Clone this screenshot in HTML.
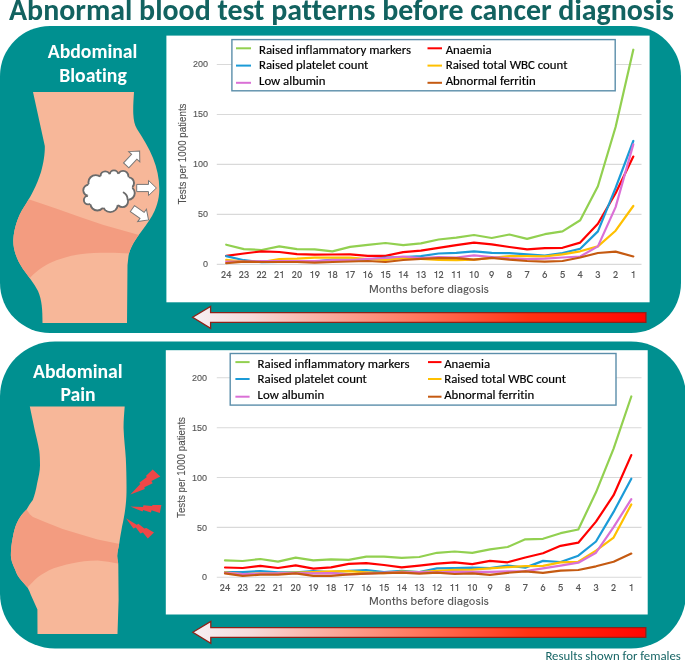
<!DOCTYPE html>
<html><head><meta charset="utf-8"><style>
html,body{margin:0;padding:0;background:#fff;}
svg{display:block;} text{font-variant-ligatures:none;font-feature-settings:'liga' 0,'clig' 0;}
.ti{font-family:Carlito,"Liberation Sans",sans-serif;font-weight:bold;font-size:30px;fill:#126260;}
.ph{font-family:Carlito,"Liberation Sans",sans-serif;font-weight:bold;font-size:19.7px;fill:#fff;}
.lg{font-family:Carlito,"Liberation Sans",sans-serif;font-size:12.8px;fill:#000;stroke:#000;stroke-width:0.18px;}
.yt{font-family:"Liberation Sans",sans-serif;font-size:9px;fill:#555;stroke:#555;stroke-width:0.12px;}
.xt{font-family:"Hanken Grotesk","Liberation Sans",sans-serif;font-weight:600;font-size:9.3px;fill:#595959;}
.mt{font-family:"Hanken Grotesk","Liberation Sans",sans-serif;font-weight:500;font-size:11.2px;fill:#595959;}
.yl{font-family:"Liberation Sans",sans-serif;font-size:10.9px;fill:#505050;stroke:#505050;stroke-width:0.12px;}
.ft{font-family:Carlito,"Liberation Sans",sans-serif;font-size:12.75px;fill:#186666;}
</style></head><body>
<svg width="685" height="661" viewBox="0 0 685 661">
<defs>
<linearGradient id="g1" gradientUnits="userSpaceOnUse" x1="193" y1="0" x2="646" y2="0">
<stop offset="0" stop-color="#F6F1F4"/><stop offset="0.13" stop-color="#F7D9D9"/><stop offset="0.26" stop-color="#FAB5AA"/><stop offset="0.48" stop-color="#FF7B62"/><stop offset="0.74" stop-color="#FF3212"/><stop offset="1" stop-color="#FF0500"/>
</linearGradient>
<clipPath id="cb1"><path d="M33,92 L134,92 C133.5,100 133,108 133.3,114 C133.6,120 134.5,125 137,129 C143,138 149,148 153,158 C157,168 159.3,178 159.3,189 C159.3,200 156,209 152,216 C148,223 143,229 138,236 C134,242 130,248 128.5,256 L127.5,265 L127,323 L42.5,323 C42.5,310 42,300 38,291 C34,283 28,276 23,269 C17,260 13,250 13.3,240 C14,228 18,216 24,207 C30,198 37,185 41,172 C44,162 45,152 44.8,146 Z"/></clipPath>
<clipPath id="cb2"><path d="M29.8,406.5 L124.7,406.5 C124,415 123.4,423 123.6,429 C124,440 125.2,448 125.8,458 C126.4,470 126.6,482 126.5,492 C126.4,505 124,518 122.1,526.3 C121,533 120,538 119.5,542 C118.5,548 117.3,552 117.2,556 C117.4,560 118.2,562 118.3,564.8 L118.6,600 L117.5,634 L37.5,634 L37.4,609.5 L30.9,595 C30,592.5 29,590 27.5,587.6 C25.5,585 23.5,583 21.4,580.6 C18.5,577 16.5,574 15.3,570 C12.5,564 11,560 10.9,556 C10.8,550 11.5,544 12.6,538.5 C13.8,532 15,527 17,522.8 C19.5,517 23,513 26.6,509.6 C28.5,506 30.5,503 32.8,500 C34.5,496 36,490 37.1,483.6 C38.5,477 40,471 40,465.5 C40,460 39.8,455 39.3,450.9 C38,443 36,436 34.5,429 Z"/></clipPath>
</defs>
<text x="9" y="20.1" class="ti" textLength="665" lengthAdjust="spacingAndGlyphs">Abnormal blood test patterns before cancer diagnosis</text>
<rect x="0" y="26" width="681" height="307" rx="50" ry="50" fill="#009090"/>
<rect x="0" y="341.5" width="686" height="307" rx="55" ry="55" fill="#009090"/>
<text x="92.6" y="58.1" class="ph" text-anchor="middle" textLength="89.6" lengthAdjust="spacingAndGlyphs">Abdominal</text>
<text x="93" y="82.1" class="ph" text-anchor="middle" textLength="67.6" lengthAdjust="spacingAndGlyphs">Bloating</text>
<text x="77.8" y="377.7" class="ph" text-anchor="middle" textLength="89.6" lengthAdjust="spacingAndGlyphs">Abdominal</text>
<text x="78" y="401.1" class="ph" text-anchor="middle" textLength="35.2" lengthAdjust="spacingAndGlyphs">Pain</text>
<path d="M33,92 L134,92 C133.5,100 133,108 133.3,114 C133.6,120 134.5,125 137,129 C143,138 149,148 153,158 C157,168 159.3,178 159.3,189 C159.3,200 156,209 152,216 C148,223 143,229 138,236 C134,242 130,248 128.5,256 L127.5,265 L127,323 L42.5,323 C42.5,310 42,300 38,291 C34,283 28,276 23,269 C17,260 13,250 13.3,240 C14,228 18,216 24,207 C30,198 37,185 41,172 C44,162 45,152 44.8,146 Z" fill="#F7B799"/>
<path d="M0,190.5 L28.7,199.3 L56.7,208.7 L80,216.9 L103.5,225 L137.3,234.4 L170,242 L170,254 L129.2,253.6 C115,252.5 95,252.5 80,254.3 C68,256 58,259.5 50,263 C42,267 35,272 28,280 L0,300 Z" fill="#F39C80" clip-path="url(#cb1)"/>
<g>
<circle cx="95.69" cy="182.4" r="6.35" fill="none" stroke="#6B6B6B" stroke-width="3.8"/>
<circle cx="105.25" cy="176.13" r="3.79" fill="none" stroke="#6B6B6B" stroke-width="3.8"/>
<circle cx="113.95" cy="174.56" r="3.21" fill="none" stroke="#6B6B6B" stroke-width="3.8"/>
<circle cx="123.06" cy="176.13" r="4.34" fill="none" stroke="#6B6B6B" stroke-width="3.8"/>
<circle cx="128.47" cy="182.96" r="4.62" fill="none" stroke="#6B6B6B" stroke-width="3.8"/>
<circle cx="128.16" cy="193.09" r="5.67" fill="none" stroke="#6B6B6B" stroke-width="3.8"/>
<circle cx="122.45" cy="201.58" r="4.63" fill="none" stroke="#6B6B6B" stroke-width="3.8"/>
<circle cx="110.23" cy="204.66" r="6.52" fill="none" stroke="#6B6B6B" stroke-width="3.8"/>
<circle cx="97.34" cy="203.68" r="5.89" fill="none" stroke="#6B6B6B" stroke-width="3.8"/>
<circle cx="88.15" cy="200.1" r="3.35" fill="none" stroke="#6B6B6B" stroke-width="3.8"/>
<circle cx="88.81" cy="190.31" r="4.56" fill="none" stroke="#6B6B6B" stroke-width="3.8"/>
<circle cx="95.69" cy="182.4" r="6.35" fill="#fff"/>
<circle cx="105.25" cy="176.13" r="3.79" fill="#fff"/>
<circle cx="113.95" cy="174.56" r="3.21" fill="#fff"/>
<circle cx="123.06" cy="176.13" r="4.34" fill="#fff"/>
<circle cx="128.47" cy="182.96" r="4.62" fill="#fff"/>
<circle cx="128.16" cy="193.09" r="5.67" fill="#fff"/>
<circle cx="122.45" cy="201.58" r="4.63" fill="#fff"/>
<circle cx="110.23" cy="204.66" r="6.52" fill="#fff"/>
<circle cx="97.34" cy="203.68" r="5.89" fill="#fff"/>
<circle cx="88.15" cy="200.1" r="3.35" fill="#fff"/>
<circle cx="88.81" cy="190.31" r="4.56" fill="#fff"/>
<polygon points="88.8,184.8 100.6,177 109.8,174.8 118.1,174.3 128.2,177.4 131.7,187.5 127.7,199.7 117.7,204.5 103.2,207.2 90.5,203.7 88.3,195.8" fill="#fff" stroke="#fff" stroke-width="1"/>
<path d="M123.6,192.4 A8.2,8.2 0 0 1 127.6,199.6" fill="none" stroke="#6B6B6B" stroke-width="1.8" stroke-linecap="round"/>
</g>
<path transform="translate(126.2,165.4) rotate(-47)" d="M0,-3.6 L11.8,-3.6 L11.8,-7.6 L19.7,0 L11.8,7.6 L11.8,3.6 L0,3.6 Z" fill="#fff" stroke="#777" stroke-width="1"/>
<path transform="translate(136.7,188) rotate(0)" d="M0,-3.6 L11.8,-3.6 L11.8,-7.6 L19.7,0 L11.8,7.6 L11.8,3.6 L0,3.6 Z" fill="#fff" stroke="#777" stroke-width="1"/>
<path transform="translate(132.4,208.6) rotate(35)" d="M0,-3.6 L11.8,-3.6 L11.8,-7.6 L19.7,0 L11.8,7.6 L11.8,3.6 L0,3.6 Z" fill="#fff" stroke="#777" stroke-width="1"/>
<path d="M29.8,406.5 L124.7,406.5 C124,415 123.4,423 123.6,429 C124,440 125.2,448 125.8,458 C126.4,470 126.6,482 126.5,492 C126.4,505 124,518 122.1,526.3 C121,533 120,538 119.5,542 C118.5,548 117.3,552 117.2,556 C117.4,560 118.2,562 118.3,564.8 L118.6,600 L117.5,634 L37.5,634 L37.4,609.5 L30.9,595 C30,592.5 29,590 27.5,587.6 C25.5,585 23.5,583 21.4,580.6 C18.5,577 16.5,574 15.3,570 C12.5,564 11,560 10.9,556 C10.8,550 11.5,544 12.6,538.5 C13.8,532 15,527 17,522.8 C19.5,517 23,513 26.6,509.6 C28.5,506 30.5,503 32.8,500 C34.5,496 36,490 37.1,483.6 C38.5,477 40,471 40,465.5 C40,460 39.8,455 39.3,450.9 C38,443 36,436 34.5,429 Z" fill="#F7B799"/>
<path d="M0,500 L26.6,509.6 L30,514.5 L33,517 L45,521.9 L62.6,528.9 L80,534.2 L97.6,539.4 L118.6,543.8 L170,552 L170,565 L117.7,563.4 L108.1,561.7 L97.6,560.4 C88,560.5 80,561.5 71.3,563.4 C65,564.8 59,566.5 53.8,568.3 C48,570.5 43,573.5 38,577.1 C34,580.5 31,584 27.5,587.6 L0,610 Z" fill="#F39C80" clip-path="url(#cb2)"/>

<path d="M152.7,469.4 L145.9,476 L146.9,477 L139.3,482.8 L140.3,484.1 L130.4,494.4 L144.8,489.1 L144.3,487.3 L152.7,483.3 L151.4,481 L160.3,476.5 Z" fill="#EF4747"/>
<path d="M130.4,506.6 L143,507.1 L143.5,505.3 L151.9,506 L152.7,505 L161.4,505 L159.8,512.9 L151.6,510.2 L150.9,512.6 L143.2,510 L142.5,511.6 Z" fill="#EF4747"/>
<path d="M126,518.2 L136.7,524.7 L138.4,523.7 L144.3,528.6 L146.3,528.1 L154,532.4 L147.8,538.6 L142.9,532.4 L140.4,533.4 L135.9,527.6 L133.4,528.6 Z" fill="#EF4747"/>

<rect x="166.4" y="35.6" width="483.20000000000005" height="266.7" fill="#fff"/>
<line x1="216.8" y1="264.4" x2="641.5" y2="264.4" stroke="#D9D9D9" stroke-width="1.1"/>
<text x="208" y="267.2" class="yt" text-anchor="end">0</text>
<line x1="216.8" y1="214.4" x2="641.5" y2="214.4" stroke="#D9D9D9" stroke-width="1.1"/>
<text x="208" y="217.2" class="yt" text-anchor="end">50</text>
<line x1="216.8" y1="164.4" x2="641.5" y2="164.4" stroke="#D9D9D9" stroke-width="1.1"/>
<text x="208" y="167.2" class="yt" text-anchor="end">100</text>
<line x1="216.8" y1="114.5" x2="641.5" y2="114.5" stroke="#D9D9D9" stroke-width="1.1"/>
<text x="208" y="117.2" class="yt" text-anchor="end">150</text>
<line x1="216.8" y1="64.5" x2="641.5" y2="64.5" stroke="#D9D9D9" stroke-width="1.1"/>
<text x="208" y="67.2" class="yt" text-anchor="end">200</text>
<text x="226.2" y="277.6" class="xt" text-anchor="middle">24</text>
<text x="243.9" y="277.6" class="xt" text-anchor="middle">23</text>
<text x="261.6" y="277.6" class="xt" text-anchor="middle">22</text>
<text x="279.3" y="277.6" class="xt" text-anchor="middle">21</text>
<text x="297.0" y="277.6" class="xt" text-anchor="middle">20</text>
<text x="314.7" y="277.6" class="xt" text-anchor="middle">19</text>
<text x="332.4" y="277.6" class="xt" text-anchor="middle">18</text>
<text x="350.1" y="277.6" class="xt" text-anchor="middle">17</text>
<text x="367.8" y="277.6" class="xt" text-anchor="middle">16</text>
<text x="385.5" y="277.6" class="xt" text-anchor="middle">15</text>
<text x="403.2" y="277.6" class="xt" text-anchor="middle">14</text>
<text x="420.9" y="277.6" class="xt" text-anchor="middle">13</text>
<text x="438.6" y="277.6" class="xt" text-anchor="middle">12</text>
<text x="456.3" y="277.6" class="xt" text-anchor="middle">11</text>
<text x="474.0" y="277.6" class="xt" text-anchor="middle">10</text>
<text x="491.7" y="277.6" class="xt" text-anchor="middle">9</text>
<text x="509.4" y="277.6" class="xt" text-anchor="middle">8</text>
<text x="527.1" y="277.6" class="xt" text-anchor="middle">7</text>
<text x="544.8" y="277.6" class="xt" text-anchor="middle">6</text>
<text x="562.5" y="277.6" class="xt" text-anchor="middle">5</text>
<text x="580.2" y="277.6" class="xt" text-anchor="middle">4</text>
<text x="597.9" y="277.6" class="xt" text-anchor="middle">3</text>
<text x="615.6" y="277.6" class="xt" text-anchor="middle">2</text>
<text x="633.3" y="277.6" class="xt" text-anchor="middle">1</text>
<text x="429" y="292.5" class="mt" text-anchor="middle" textLength="120" lengthAdjust="spacingAndGlyphs">Months before diagosis</text>
<text transform="translate(185.5,154.0) rotate(-90)" class="yl" text-anchor="middle" textLength="101" lengthAdjust="spacingAndGlyphs">Tests per 1000 patients</text>
<polyline points="226.2,244.7 243.9,249.1 261.6,250.0 279.3,246.3 297.0,249.1 314.7,249.3 332.4,251.4 350.1,246.9 367.8,244.8 385.5,243.0 403.2,245.1 420.9,243.4 438.6,239.5 456.3,237.7 474.0,235.0 491.7,238.0 509.4,234.5 527.1,238.9 544.8,234.2 562.5,231.4 580.2,220.3 597.9,186.2 615.6,127.0 633.3,49.7" fill="none" stroke="#92D050" stroke-width="2.2" stroke-linejoin="round" stroke-linecap="round"/>
<polyline points="226.2,255.8 243.9,253.5 261.6,251.3 279.3,252.0 297.0,254.2 314.7,254.7 332.4,254.5 350.1,254.4 367.8,255.8 385.5,255.8 403.2,252.1 420.9,250.6 438.6,247.9 456.3,245.2 474.0,242.6 491.7,244.3 509.4,247.0 527.1,249.4 544.8,248.2 562.5,247.8 580.2,242.6 597.9,223.8 615.6,193.2 633.3,156.6" fill="none" stroke="#FF0000" stroke-width="2.2" stroke-linejoin="round" stroke-linecap="round"/>
<polyline points="226.2,256.1 243.9,260.2 261.6,262.2 279.3,262.0 297.0,261.7 314.7,261.5 332.4,259.7 350.1,259.7 367.8,259.5 385.5,257.6 403.2,257.0 420.9,256.2 438.6,253.5 456.3,252.8 474.0,251.3 491.7,252.8 509.4,253.1 527.1,254.3 544.8,255.7 562.5,253.0 580.2,248.8 597.9,231.4 615.6,187.9 633.3,141.0" fill="none" stroke="#1B9BD7" stroke-width="2.2" stroke-linejoin="round" stroke-linecap="round"/>
<polyline points="226.2,259.8 243.9,261.7 261.6,262.0 279.3,259.0 297.0,258.6 314.7,257.6 332.4,257.6 350.1,257.6 367.8,259.0 385.5,260.0 403.2,258.0 420.9,259.0 438.6,260.0 456.3,260.1 474.0,259.6 491.7,257.8 509.4,256.1 527.1,256.1 544.8,256.4 562.5,254.4 580.2,251.3 597.9,246.4 615.6,230.7 633.3,206.0" fill="none" stroke="#FFC000" stroke-width="2.2" stroke-linejoin="round" stroke-linecap="round"/>
<polyline points="226.2,261.7 243.9,261.7 261.6,261.0 279.3,261.0 297.0,261.0 314.7,261.0 332.4,260.0 350.1,260.0 367.8,258.8 385.5,258.0 403.2,256.5 420.9,258.0 438.6,257.0 456.3,257.5 474.0,255.4 491.7,257.0 509.4,258.3 527.1,259.2 544.8,258.7 562.5,257.5 580.2,256.5 597.9,246.4 615.6,207.1 633.3,144.4" fill="none" stroke="#DA70D6" stroke-width="2.2" stroke-linejoin="round" stroke-linecap="round"/>
<polyline points="226.2,263.1 243.9,261.7 261.6,262.0 279.3,262.0 297.0,262.0 314.7,262.7 332.4,262.0 350.1,261.5 367.8,261.0 385.5,262.0 403.2,260.0 420.9,258.8 438.6,258.2 456.3,258.2 474.0,259.6 491.7,257.8 509.4,259.6 527.1,261.0 544.8,261.7 562.5,261.0 580.2,257.5 597.9,253.0 615.6,251.6 633.3,256.5" fill="none" stroke="#C55A11" stroke-width="2.2" stroke-linejoin="round" stroke-linecap="round"/>
<rect x="231.9" y="39.6" width="383.3" height="51.2" fill="#fff" stroke="#5B8EAA" stroke-width="1.4"/>
<line x1="236" y1="48.3" x2="251" y2="48.3" stroke="#92D050" stroke-width="2"/>
<text x="259.0" y="54.0" class="lg" textLength="151.98" lengthAdjust="spacingAndGlyphs">Raised inflammatory markers</text>
<line x1="427.5" y1="48.3" x2="442" y2="48.3" stroke="#FF0000" stroke-width="2"/>
<text x="445.7" y="54.0" class="lg" textLength="45.92" lengthAdjust="spacingAndGlyphs">Anaemia</text>
<line x1="236" y1="65.6" x2="251" y2="65.6" stroke="#1B9BD7" stroke-width="2"/>
<text x="259.0" y="68.8" class="lg" textLength="109.28" lengthAdjust="spacingAndGlyphs">Raised platelet count</text>
<line x1="427.5" y1="65.6" x2="442" y2="65.6" stroke="#FFC000" stroke-width="2"/>
<text x="445.7" y="68.8" class="lg" textLength="121.73" lengthAdjust="spacingAndGlyphs">Raised total WBC count</text>
<line x1="236" y1="82.8" x2="251" y2="82.8" stroke="#DA70D6" stroke-width="2"/>
<text x="259.0" y="84.5" class="lg" textLength="66.52" lengthAdjust="spacingAndGlyphs">Low albumin</text>
<line x1="427.5" y1="82.8" x2="442" y2="82.8" stroke="#C55A11" stroke-width="2"/>
<text x="445.7" y="84.5" class="lg" textLength="90.02" lengthAdjust="spacingAndGlyphs">Abnormal ferritin</text>
<rect x="165.8" y="350.2" width="481.90000000000003" height="264.3" fill="#fff"/>
<line x1="216.8" y1="577.2" x2="641.5" y2="577.2" stroke="#D9D9D9" stroke-width="1.1"/>
<text x="207" y="580.4" class="yt" text-anchor="end">0</text>
<line x1="216.8" y1="527.4" x2="641.5" y2="527.4" stroke="#D9D9D9" stroke-width="1.1"/>
<text x="207" y="530.6" class="yt" text-anchor="end">50</text>
<line x1="216.8" y1="477.5" x2="641.5" y2="477.5" stroke="#D9D9D9" stroke-width="1.1"/>
<text x="207" y="480.7" class="yt" text-anchor="end">100</text>
<line x1="216.8" y1="427.7" x2="641.5" y2="427.7" stroke="#D9D9D9" stroke-width="1.1"/>
<text x="207" y="430.9" class="yt" text-anchor="end">150</text>
<line x1="216.8" y1="377.8" x2="641.5" y2="377.8" stroke="#D9D9D9" stroke-width="1.1"/>
<text x="207" y="381.0" class="yt" text-anchor="end">200</text>
<text x="225.0" y="590.6" class="xt" text-anchor="middle">24</text>
<text x="242.7" y="590.6" class="xt" text-anchor="middle">23</text>
<text x="260.3" y="590.6" class="xt" text-anchor="middle">22</text>
<text x="278.0" y="590.6" class="xt" text-anchor="middle">21</text>
<text x="295.7" y="590.6" class="xt" text-anchor="middle">20</text>
<text x="313.3" y="590.6" class="xt" text-anchor="middle">19</text>
<text x="331.0" y="590.6" class="xt" text-anchor="middle">18</text>
<text x="348.7" y="590.6" class="xt" text-anchor="middle">17</text>
<text x="366.3" y="590.6" class="xt" text-anchor="middle">16</text>
<text x="384.0" y="590.6" class="xt" text-anchor="middle">15</text>
<text x="401.7" y="590.6" class="xt" text-anchor="middle">14</text>
<text x="419.3" y="590.6" class="xt" text-anchor="middle">13</text>
<text x="437.0" y="590.6" class="xt" text-anchor="middle">12</text>
<text x="454.6" y="590.6" class="xt" text-anchor="middle">11</text>
<text x="472.3" y="590.6" class="xt" text-anchor="middle">10</text>
<text x="490.0" y="590.6" class="xt" text-anchor="middle">9</text>
<text x="507.6" y="590.6" class="xt" text-anchor="middle">8</text>
<text x="525.3" y="590.6" class="xt" text-anchor="middle">7</text>
<text x="543.0" y="590.6" class="xt" text-anchor="middle">6</text>
<text x="560.6" y="590.6" class="xt" text-anchor="middle">5</text>
<text x="578.3" y="590.6" class="xt" text-anchor="middle">4</text>
<text x="596.0" y="590.6" class="xt" text-anchor="middle">3</text>
<text x="613.6" y="590.6" class="xt" text-anchor="middle">2</text>
<text x="631.3" y="590.6" class="xt" text-anchor="middle">1</text>
<text x="429" y="605.2" class="mt" text-anchor="middle" textLength="120" lengthAdjust="spacingAndGlyphs">Months before diagosis</text>
<text transform="translate(184.5,467.5) rotate(-90)" class="yl" text-anchor="middle" textLength="101" lengthAdjust="spacingAndGlyphs">Tests per 1000 patients</text>
<polyline points="225.0,560.4 242.7,561.0 260.3,559.0 278.0,561.6 295.7,557.6 313.3,560.3 331.0,559.3 348.7,559.8 366.3,556.6 384.0,556.6 401.7,557.9 419.3,557.0 437.0,552.8 454.6,551.5 472.3,552.8 490.0,549.3 507.6,547.0 525.3,539.3 543.0,538.8 560.6,533.2 578.3,529.5 596.0,492.3 613.6,448.6 631.3,396.5" fill="none" stroke="#92D050" stroke-width="2.2" stroke-linejoin="round" stroke-linecap="round"/>
<polyline points="225.0,567.5 242.7,568.0 260.3,565.8 278.0,568.0 295.7,565.4 313.3,568.6 331.0,567.4 348.7,563.9 366.3,563.2 384.0,565.0 401.7,567.4 419.3,565.7 437.0,563.6 454.6,562.3 472.3,564.1 490.0,560.9 507.6,562.3 525.3,557.5 543.0,553.3 560.6,545.8 578.3,542.7 596.0,521.6 613.6,495.2 631.3,455.1" fill="none" stroke="#FF0000" stroke-width="2.2" stroke-linejoin="round" stroke-linecap="round"/>
<polyline points="225.0,572.1 242.7,572.2 260.3,571.0 278.0,572.4 295.7,572.4 313.3,571.2 331.0,572.0 348.7,570.9 366.3,570.2 384.0,572.0 401.7,570.9 419.3,572.0 437.0,568.3 454.6,568.1 472.3,567.6 490.0,568.1 507.6,565.5 525.3,567.6 543.0,560.9 560.6,562.0 578.3,555.7 596.0,541.5 613.6,511.9 631.3,478.7" fill="none" stroke="#1B9BD7" stroke-width="2.2" stroke-linejoin="round" stroke-linecap="round"/>
<polyline points="225.0,572.4 242.7,574.2 260.3,573.3 278.0,573.2 295.7,572.7 313.3,572.2 331.0,571.4 348.7,571.2 366.3,572.3 384.0,573.2 401.7,571.7 419.3,572.2 437.0,570.9 454.6,569.8 472.3,569.7 490.0,568.4 507.6,567.2 525.3,566.2 543.0,565.8 560.6,562.3 578.3,561.8 596.0,550.6 613.6,537.6 631.3,504.4" fill="none" stroke="#FFC000" stroke-width="2.2" stroke-linejoin="round" stroke-linecap="round"/>
<polyline points="225.0,572.9 242.7,574.2 260.3,573.7 278.0,573.3 295.7,573.2 313.3,573.3 331.0,573.2 348.7,574.4 366.3,573.7 384.0,572.7 401.7,572.3 419.3,572.0 437.0,572.3 454.6,571.9 472.3,571.9 490.0,571.9 507.6,571.4 525.3,571.1 543.0,568.4 560.6,565.7 578.3,562.7 596.0,552.7 613.6,527.1 631.3,499.2" fill="none" stroke="#DA70D6" stroke-width="2.2" stroke-linejoin="round" stroke-linecap="round"/>
<polyline points="225.0,573.3 242.7,575.9 260.3,574.7 278.0,574.7 295.7,573.3 313.3,575.9 331.0,575.8 348.7,574.4 366.3,573.7 384.0,573.2 401.7,572.7 419.3,573.7 437.0,572.7 454.6,574.0 472.3,573.3 490.0,574.9 507.6,572.8 525.3,571.4 543.0,572.8 560.6,570.7 578.3,570.0 596.0,566.3 613.6,561.8 631.3,553.6" fill="none" stroke="#C55A11" stroke-width="2.2" stroke-linejoin="round" stroke-linecap="round"/>
<rect x="230.2" y="353.5" width="385.8" height="51.6" fill="#fff" stroke="#5B8EAA" stroke-width="1.4"/>
<line x1="235.4" y1="362.1" x2="249.6" y2="362.1" stroke="#92D050" stroke-width="2"/>
<text x="257.6" y="368.0" class="lg" textLength="151.98" lengthAdjust="spacingAndGlyphs">Raised inflammatory markers</text>
<line x1="428" y1="362.1" x2="441.5" y2="362.1" stroke="#FF0000" stroke-width="2"/>
<text x="444.2" y="368.0" class="lg" textLength="45.92" lengthAdjust="spacingAndGlyphs">Anaemia</text>
<line x1="235.4" y1="379.0" x2="249.6" y2="379.0" stroke="#1B9BD7" stroke-width="2"/>
<text x="257.6" y="383.0" class="lg" textLength="109.28" lengthAdjust="spacingAndGlyphs">Raised platelet count</text>
<line x1="428" y1="379.0" x2="441.5" y2="379.0" stroke="#FFC000" stroke-width="2"/>
<text x="444.2" y="383.0" class="lg" textLength="121.73" lengthAdjust="spacingAndGlyphs">Raised total WBC count</text>
<line x1="235.4" y1="396.7" x2="249.6" y2="396.7" stroke="#DA70D6" stroke-width="2"/>
<text x="257.6" y="398.6" class="lg" textLength="66.52" lengthAdjust="spacingAndGlyphs">Low albumin</text>
<line x1="428" y1="396.7" x2="441.5" y2="396.7" stroke="#C55A11" stroke-width="2"/>
<text x="444.2" y="398.6" class="lg" textLength="90.02" lengthAdjust="spacingAndGlyphs">Abnormal ferritin</text>
<path d="M192.6,317.3 L210.6,306.40000000000003 L210.6,312.7 L645.9,312.7 L645.9,322.3 L210.6,322.3 L210.6,328.40000000000003 Z" fill="url(#g1)" stroke="#8E2218" stroke-width="1.3" stroke-linejoin="miter"/>
<path d="M192.8,632.3 L210.8,621.4 L210.8,627.6999999999999 L645.8,627.6999999999999 L645.8,637.3 L210.8,637.3 L210.8,643.4 Z" fill="url(#g1)" stroke="#8E2218" stroke-width="1.3" stroke-linejoin="miter"/>
<text x="545.4" y="660.3" class="ft" textLength="135.5" lengthAdjust="spacingAndGlyphs">Results shown for females</text>
</svg>
</body></html>
